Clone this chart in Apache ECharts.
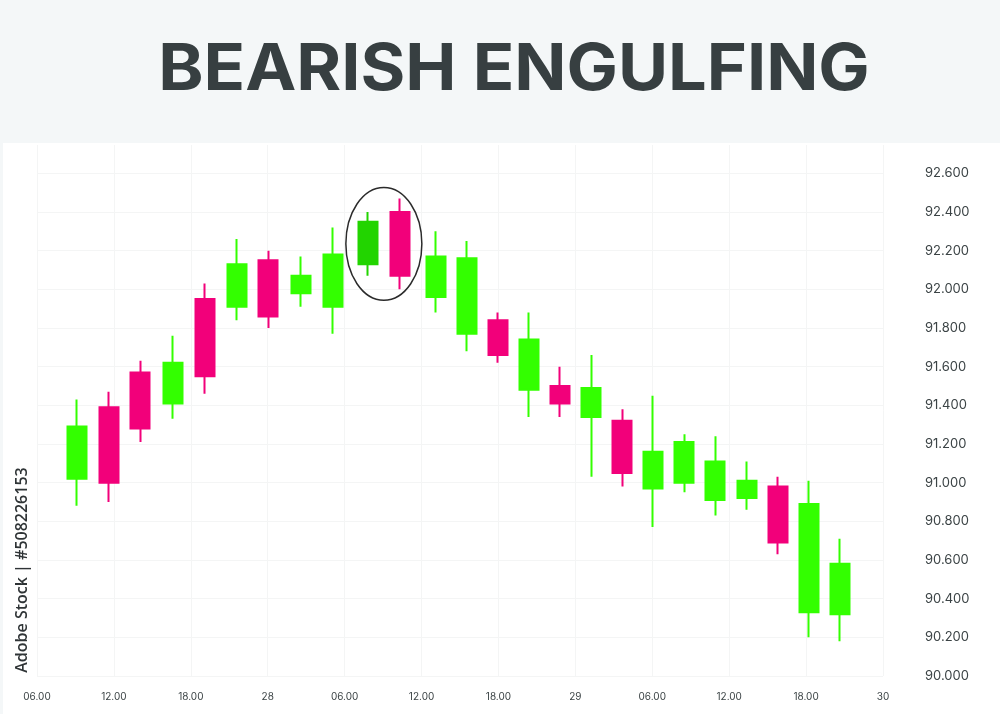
<!DOCTYPE html>
<html>
<head>
<meta charset="utf-8">
<script src="https://cdn.jsdelivr.net/npm/echarts@6/dist/echarts.min.js"></script>
<style>
html,body{margin:0;padding:0;background:#fff;}
#chart{width:1000px;height:714px;}
</style>
</head>
<body>
<div id="chart"></div>
<script>
// ---- data ----
const titleText = 'BEARISH ENGULFING';
const sideText = 'Adobe Stock | #508226153';
// candle times, in hours after the first "06.00" tick
const candleHours = [3.10, 5.60, 8.07, 10.59, 13.11, 15.58, 18.06, 20.56, 23.07, 25.82, 28.30, 31.09, 33.51, 35.94, 38.37, 40.80, 43.24, 45.66, 48.07, 50.50, 52.92, 55.38, 57.81, 60.21, 62.63];
const opens  = [91.02, 91.39, 91.57, 91.41, 91.95, 91.91, 92.15, 91.98, 91.91, 92.13, 92.40, 91.96, 91.77, 91.84, 91.48, 91.50, 91.34, 91.32, 90.97, 91.00, 90.91, 90.92, 90.98, 90.33, 90.32];
const closes = [91.29, 91.00, 91.28, 91.62, 91.55, 92.13, 91.86, 92.07, 92.18, 92.35, 92.07, 92.17, 92.16, 91.66, 91.74, 91.41, 91.49, 91.05, 91.16, 91.21, 91.11, 91.01, 90.69, 90.89, 90.58];
const lows   = [90.88, 90.90, 91.21, 91.33, 91.46, 91.84, 91.80, 91.91, 91.77, 92.07, 92.00, 91.88, 91.68, 91.62, 91.34, 91.34, 91.03, 90.98, 90.77, 90.95, 90.83, 90.86, 90.63, 90.20, 90.18];
const highs  = [91.43, 91.47, 91.63, 91.76, 92.03, 92.26, 92.20, 92.17, 92.32, 92.40, 92.47, 92.30, 92.25, 91.88, 91.88, 91.60, 91.66, 91.38, 91.45, 91.25, 91.24, 91.11, 91.03, 91.01, 90.71];
const timeLabels = ['06.00','12.00','18.00','28','06.00','12.00','18.00','29','06.00','12.00','18.00','30'];
const tickStepHours = 6;
const patternIdx = [9, 10];   // the circled engulfing pair
const highlightIdx = 9;        // darker green candle

const UP = '#33ff00', DOWN = '#f2007a', HILITE = '#22d400';
const GRIDC = '#f4f5f5';

const candleData = candleHours.map((h, i) => {
  const item = { value: [h, opens[i], closes[i], lows[i], highs[i]] };
  if (i === highlightIdx) item.itemStyle = { color: HILITE, borderColor: HILITE };
  return item;
});
const xMax = (timeLabels.length - 1) * tickStepHours;
const labelFmt = v => timeLabels[Math.round(v / tickStepHours)] || '';

const chart = echarts.init(document.getElementById('chart'));
chart.setOption({
  backgroundColor: '#ffffff',
  animation: false,
  grid: [
    { left: 37, right: 117, top: 173.3, bottom: 38 },
    { left: 37, right: 117, top: 145, bottom: 38 }
  ],
  xAxis: [
    { type: 'value', gridIndex: 0, min: 0, max: xMax, interval: tickStepHours, show: false,
      splitLine: { show: false } },
    { type: 'value', gridIndex: 1, min: 0, max: xMax, interval: tickStepHours,
      axisLine: { show: false }, axisTick: { show: false },
      axisLabel: { margin: 16, color: '#3b4345', fontSize: 10, fontFamily: 'Inter', formatter: labelFmt, showMinLabel: true, showMaxLabel: true },
      splitLine: { show: true, lineStyle: { color: GRIDC, width: 1 } } }
  ],
  yAxis: [
    { type: 'value', gridIndex: 0, position: 'right', min: 90, max: 92.6, interval: 0.2,
      axisLine: { show: false }, axisTick: { show: false },
      axisLabel: { margin: 42, align: 'left', color: '#3b4345', fontSize: 13, fontFamily: 'Inter',
        formatter: v => v.toFixed(3) },
      splitLine: { show: true, lineStyle: { color: GRIDC, width: 1 } } },
    { type: 'value', gridIndex: 1, show: false, min: 0, max: 1 }
  ],
  series: [
    { type: 'candlestick', xAxisIndex: 0, yAxisIndex: 0, data: candleData, barWidth: 19.5,
      encode: { x: 0, y: [1, 2, 3, 4] },
      itemStyle: { color: UP, color0: DOWN, borderColor: UP, borderColor0: DOWN, borderWidth: 2 } }
  ]
});

// annotation ellipse around the engulfing pair, positioned from the data
const xA = chart.convertToPixel({ xAxisIndex: 0 }, candleHours[patternIdx[0]]);
const xB = chart.convertToPixel({ xAxisIndex: 0 }, candleHours[patternIdx[1]]);
const maxHigh = Math.max(...patternIdx.map(i => highs[i]));
const minLow = Math.min(...patternIdx.map(i => lows[i]));
const yTop = chart.convertToPixel({ yAxisIndex: 0 }, maxHigh) - 11;
const yBot = chart.convertToPixel({ yAxisIndex: 0 }, minLow) + 11;

chart.setOption({
  graphic: [
    { type: 'rect', z: -10, silent: true, shape: { x: 0, y: 0, width: 1000, height: 143 }, style: { fill: '#f4f7f8' } },
    { type: 'rect', z: -10, silent: true, shape: { x: 0, y: 143, width: 3, height: 571 }, style: { fill: '#f4f7f8' } },
    { type: 'text', z: 10, x: 514, y: 71, scaleX: 1.07, style: { text: titleText, fill: '#373f41', font: '700 64px Inter', textAlign: 'center', textVerticalAlign: 'middle' } },
    { type: 'text', z: 10, x: 22, y: 570, rotation: Math.PI / 2, style: { text: sideText, fill: '#2f3436', font: '600 16px "Open Sans"', textAlign: 'center', textVerticalAlign: 'middle' } },
    { type: 'ellipse', z: 10, silent: true, shape: { cx: (xA + xB) / 2, cy: (yTop + yBot) / 2, rx: 38, ry: (yBot - yTop) / 2 },
      style: { fill: 'none', stroke: '#2b2b2b', lineWidth: 1.5 } }
  ]
});
</script>
</body>
</html>
